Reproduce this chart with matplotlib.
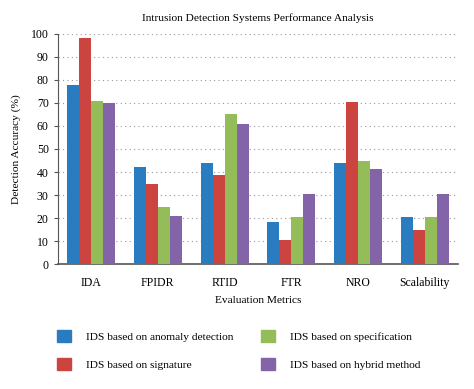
import matplotlib
matplotlib.use("Agg")
import matplotlib.pyplot as plt
import numpy as np
from matplotlib.patches import Patch

plt.rcParams['font.family'] = ['Liberation Serif', 'DejaVu Serif']

metrics = ["IDA", "FPIDR", "RTID", "FTR", "NRO", "Scalability"]
anomaly = [78, 42, 44, 18.5, 44, 20.5]
signature = [98, 35, 38.5, 10.5, 70.5, 15]
specification = [71, 25, 65, 20.5, 45, 20.5]
hybrid = [70, 21, 61, 30.5, 41.5, 30.5]
labels = ["IDS based on anomaly detection", "IDS based on signature",
          "IDS based on specification", "IDS based on hybrid method"]
colors = ["#2a7cc0", "#cb4440", "#94bd59", "#8464a8"]

fig = plt.figure(figsize=(4.74, 3.89), dpi=100)
ax = fig.add_axes([0.122, 0.321, 0.844, 0.592])

x = np.arange(len(metrics))
w = 0.18
series = [anomaly, signature, specification, hybrid]
for i, vals in enumerate(series):
    ax.bar(x + (i - 1.5) * w, vals, width=w, color=colors[i], zorder=3)

ax.set_xlim(-0.5, len(metrics) - 0.5)
ax.set_ylim(0, 100)
ax.set_yticks(range(0, 101, 10))
ax.set_xticks(x)
ax.set_xticklabels(metrics, fontsize=8.5)
ax.tick_params(axis='y', labelsize=8.5, direction='out', length=3, color='#555555')
ax.tick_params(axis='x', length=0, pad=9)
ax.yaxis.grid(True, linestyle=(0, (1, 3)), color='#999999', linewidth=0.8, zorder=0)
for s in ['top', 'right']:
    ax.spines[s].set_visible(False)
ax.spines['left'].set_color('#555555')
ax.spines['bottom'].set_color('#555555')
ax.spines['bottom'].set_linewidth(1.2)

ax.set_title("Intrusion Detection Systems Performance Analysis", fontsize=8.2, pad=9)
ax.set_xlabel("Evaluation Metrics", fontsize=8.2, labelpad=5)
ax.set_ylabel("Detection Accuracy (%)", fontsize=8.2, labelpad=7)

handles = [Patch(color=c) for c in colors]
fig.legend(handles, labels, ncol=2, frameon=False, fontsize=8.2,
           loc='center', bbox_to_anchor=(0.503, 0.1),
           handlelength=1.24, handleheight=1.24, handletextpad=1.3,
           labelspacing=1.4, columnspacing=2.4)

fig.savefig("out.png", dpi=100)
